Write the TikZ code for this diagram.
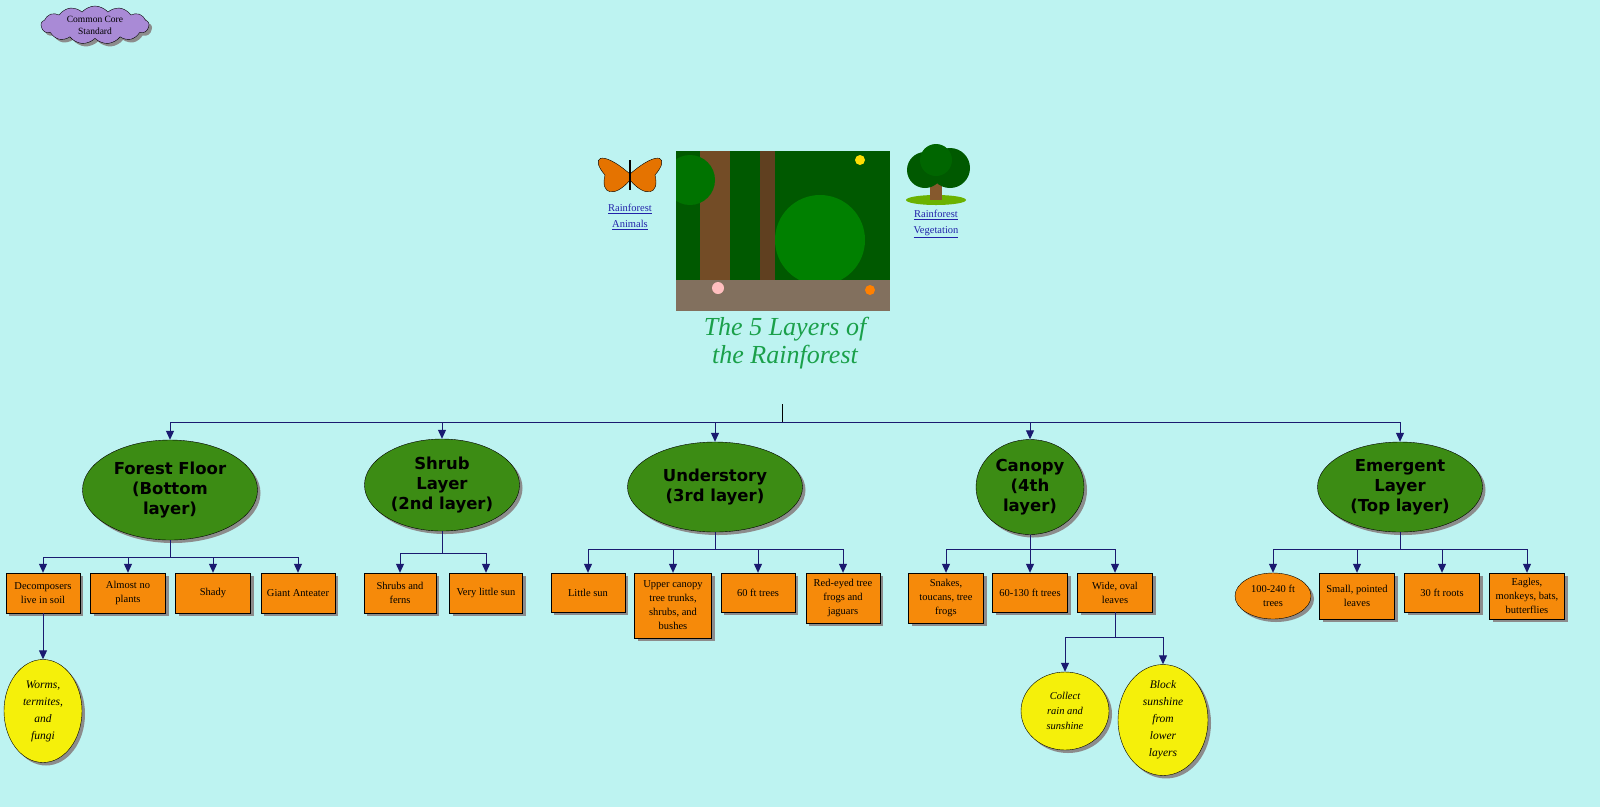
\documentclass[tikz,border=0pt]{standalone}
\usepackage{fontspec}
\setmainfont{Liberation Serif}
\newfontfamily\vfont{DejaVu Sans}
\usetikzlibrary{arrows.meta,shapes.geometric,shapes.symbols,shadows}
\definecolor{bg}{HTML}{BDF3F1}
\definecolor{lgreen}{HTML}{3C8C14}
\definecolor{orng}{HTML}{F68A0A}
\definecolor{yell}{HTML}{F5F00A}
\definecolor{navy}{HTML}{1A1A70}
\definecolor{ttl}{HTML}{1AA04A}
\definecolor{purp}{HTML}{A98AD6}
\definecolor{lnk}{HTML}{2222AA}
\tikzset{
 x=1pt,y=-1pt,
 shad/.style={drop shadow={shadow xshift=3pt,shadow yshift=-3pt,fill=black!45,opacity=1}},
 layer/.style={ellipse,draw=black,fill=lgreen,shad,inner sep=0,align=center,font=\vfont\bfseries\fontsize{16.5}{20}\selectfont},
 box/.style={rectangle,draw=black,fill=orng,shad,inner sep=1pt,align=center,font=\fontsize{10.5}{14}\selectfont},
 note/.style={ellipse,draw=black,fill=yell,shad,inner sep=0,align=center,font=\itshape\fontsize{11.5}{17}\selectfont},
 arr/.style={draw=navy,line width=1pt,-{Triangle[length=9pt,width=8pt]}},
 ln/.style={draw=navy,line width=1pt},
}
\newcommand{\bx}[5]{\node[box,minimum width=#3,minimum height=#4] (#1) at #2 {#5};}
\begin{document}
\begin{tikzpicture}
\fill[bg] (0,0) rectangle (1600,807);
\useasboundingbox (0,0) rectangle (1600,807);
% cloud
\node[cloud,cloud puffs=13,cloud puff arc=100,aspect=2.8,draw=black,fill=purp,shad,minimum width=108,minimum height=38,inner sep=0,align=center,font=\fontsize{9.5}{12}\selectfont] (cc) at (95,25) {Common Core\\Standard};
% picture
\node[draw=none,fill=green!35!black,minimum width=214,minimum height=160,inner sep=0] (img) at (783,231) {};
\begin{scope}
\clip (676,151) rectangle (890,311);
\fill[brown!60!black] (700,151) rectangle (730,311);
\fill[brown!50!black] (760,151) rectangle (775,300);
\fill[green!50!black] (820,240) circle (45);
\fill[green!45!black] (690,180) circle (25);
\fill[brown!40!black!70] (676,280) rectangle (890,311);
\fill[pink] (718,288) circle (6);
\fill[orange] (870,290) circle (5);
\fill[yellow!80!orange] (860,160) circle (5);
\end{scope}
% butterfly
\node[inner sep=0,minimum width=70,minimum height=45] (bfly) at (630,174) {};
\fill[orange!90!black,draw=black] (630,174) .. controls (600,148) and (590,158) .. (605,175) .. controls (600,195) and (615,198) .. (630,180) -- cycle;
\fill[orange!90!black,draw=black] (630,174) .. controls (660,148) and (670,158) .. (655,175) .. controls (660,195) and (645,198) .. (630,180) -- cycle;
\draw[black,line width=2pt] (630,160) -- (630,190);
\node[font=\fontsize{10.5}{16}\selectfont,text=lnk,align=center] (la) at (630,217) {\underline{Rainforest}\\\underline{Animals}};
% tree
\node[inner sep=0,minimum width=70,minimum height=55] (tree) at (936,178) {};
\fill[green!40!yellow!70!black] (936,200) ellipse (30 and 5);
\fill[brown!70!black] (930,175) rectangle (942,200);
\fill[green!35!black] (925,170) circle (18);
\fill[green!35!black] (950,168) circle (20);
\fill[green!40!black] (936,160) circle (16);
\node[font=\fontsize{10.5}{16}\selectfont,text=lnk,align=center] (lv) at (936,224) {\underline{Rainforest}\\\underline{Vegetation}};
% title
\node[text=ttl,font=\itshape\fontsize{26}{28}\selectfont,align=center] (title) at (785,343) {The 5 Layers of\\the Rainforest};
% main branches
\coordinate (top) at (782,404);
\coordinate (mid) at (782,422);
\draw[black,line width=0.8pt] (top) -- (mid);
\draw[ln] (170,422) -- (1400,422);
\node[layer,minimum width=175,minimum height=100] (ff) at (170,490) {Forest Floor\\(Bottom\\layer)};
\node[layer,minimum width=155,minimum height=92] (sh) at (442,485) {Shrub\\Layer\\(2nd layer)};
\node[layer,minimum width=175,minimum height=90] (us) at (715,487) {Understory\\(3rd layer)};
\node[layer,minimum width=108,minimum height=95] (ca) at (1030,487) {Canopy\\(4th\\layer)};
\node[layer,minimum width=165,minimum height=90] (em) at (1400,487) {Emergent\\Layer\\(Top layer)};
\foreach \n in {ff,sh,us,ca,em} \draw[arr] (\n.north |- mid) -- (\n.north);
% forest floor children
\bx{f1}{(43,593)}{74}{40}{Decomposers\\live in soil}
\bx{f2}{(128,593)}{75}{40}{Almost no\\plants}
\bx{f3}{(213,593)}{75}{40}{Shady}
\bx{f4}{(298,593)}{74}{40}{Giant Anteater}
\draw[ln] (ff.south) -- (170,557) (43,557) -- (298,557);
\foreach \n in {f1,f2,f3,f4} \draw[arr] (\n.north |- 0,557) -- (\n.north);
\node[note,minimum width=78,minimum height=103] (wo) at (43,711) {Worms,\\termites,\\and\\fungi};
\draw[arr] (f1.south) -- (wo.north);
% shrub children
\bx{s1}{(400,593)}{72}{40}{Shrubs and\\ferns}
\bx{s2}{(486,593)}{73}{40}{Very little sun}
\draw[ln] (sh.south) -- (442,553) (400,553) -- (486,553);
\foreach \n in {s1,s2} \draw[arr] (\n.north |- 0,553) -- (\n.north);
% understory children
\bx{u1}{(588,592.5)}{74}{39}{Little sun}
\bx{u2}{(673,605.5)}{77}{65}{Upper canopy\\tree trunks,\\shrubs, and\\bushes}
\bx{u3}{(758,592.5)}{74}{39}{60 ft trees}
\bx{u4}{(843,598)}{74}{50}{Red-eyed tree\\frogs and\\jaguars}
\draw[ln] (us.south) -- (715,549) (588,549) -- (843,549);
\foreach \n in {u1,u2,u3,u4} \draw[arr] (\n.north |- 0,549) -- (\n.north);
% canopy children
\bx{c1}{(946,598)}{75}{50}{Snakes,\\toucans, tree\\frogs}
\bx{c2}{(1030,592.5)}{75}{39}{60-130 ft trees}
\bx{c3}{(1115,592.5)}{75}{39}{Wide, oval\\leaves}
\draw[ln] (ca.south) -- (1030,549) (946,549) -- (1115,549);
\foreach \n in {c1,c2,c3} \draw[arr] (\n.north |- 0,549) -- (\n.north);
\node[note,minimum width=88,minimum height=78,font=\itshape\fontsize{10.5}{15}\selectfont] (n1) at (1065,711) {Collect\\rain and\\sunshine};
\node[note,minimum width=90,minimum height=110] (n2) at (1163,720) {Block\\sunshine\\from\\lower\\layers};
\draw[ln] (c3.south) -- (1115,637) (1065,637) -- (1163,637);
\foreach \n in {n1,n2} \draw[arr] (\n.north |- 0,637) -- (\n.north);
% emergent children
\node[ellipse,draw=black,fill=orng,shad,inner sep=0,align=center,font=\fontsize{10.5}{14}\selectfont,minimum width=76,minimum height=46] (e1) at (1273,596) {100-240 ft\\trees};
\bx{e2}{(1357,596)}{75}{46}{Small, pointed\\leaves}
\bx{e3}{(1442,592.5)}{75}{39}{30 ft roots}
\bx{e4}{(1527,596)}{75}{46}{Eagles,\\monkeys, bats,\\butterflies}
\draw[ln] (em.south) -- (1400,549) (1273,549) -- (1527,549);
\foreach \n in {e1,e2,e3,e4} \draw[arr] (\n.north |- 0,549) -- (\n.north);
\end{tikzpicture}
\end{document}
